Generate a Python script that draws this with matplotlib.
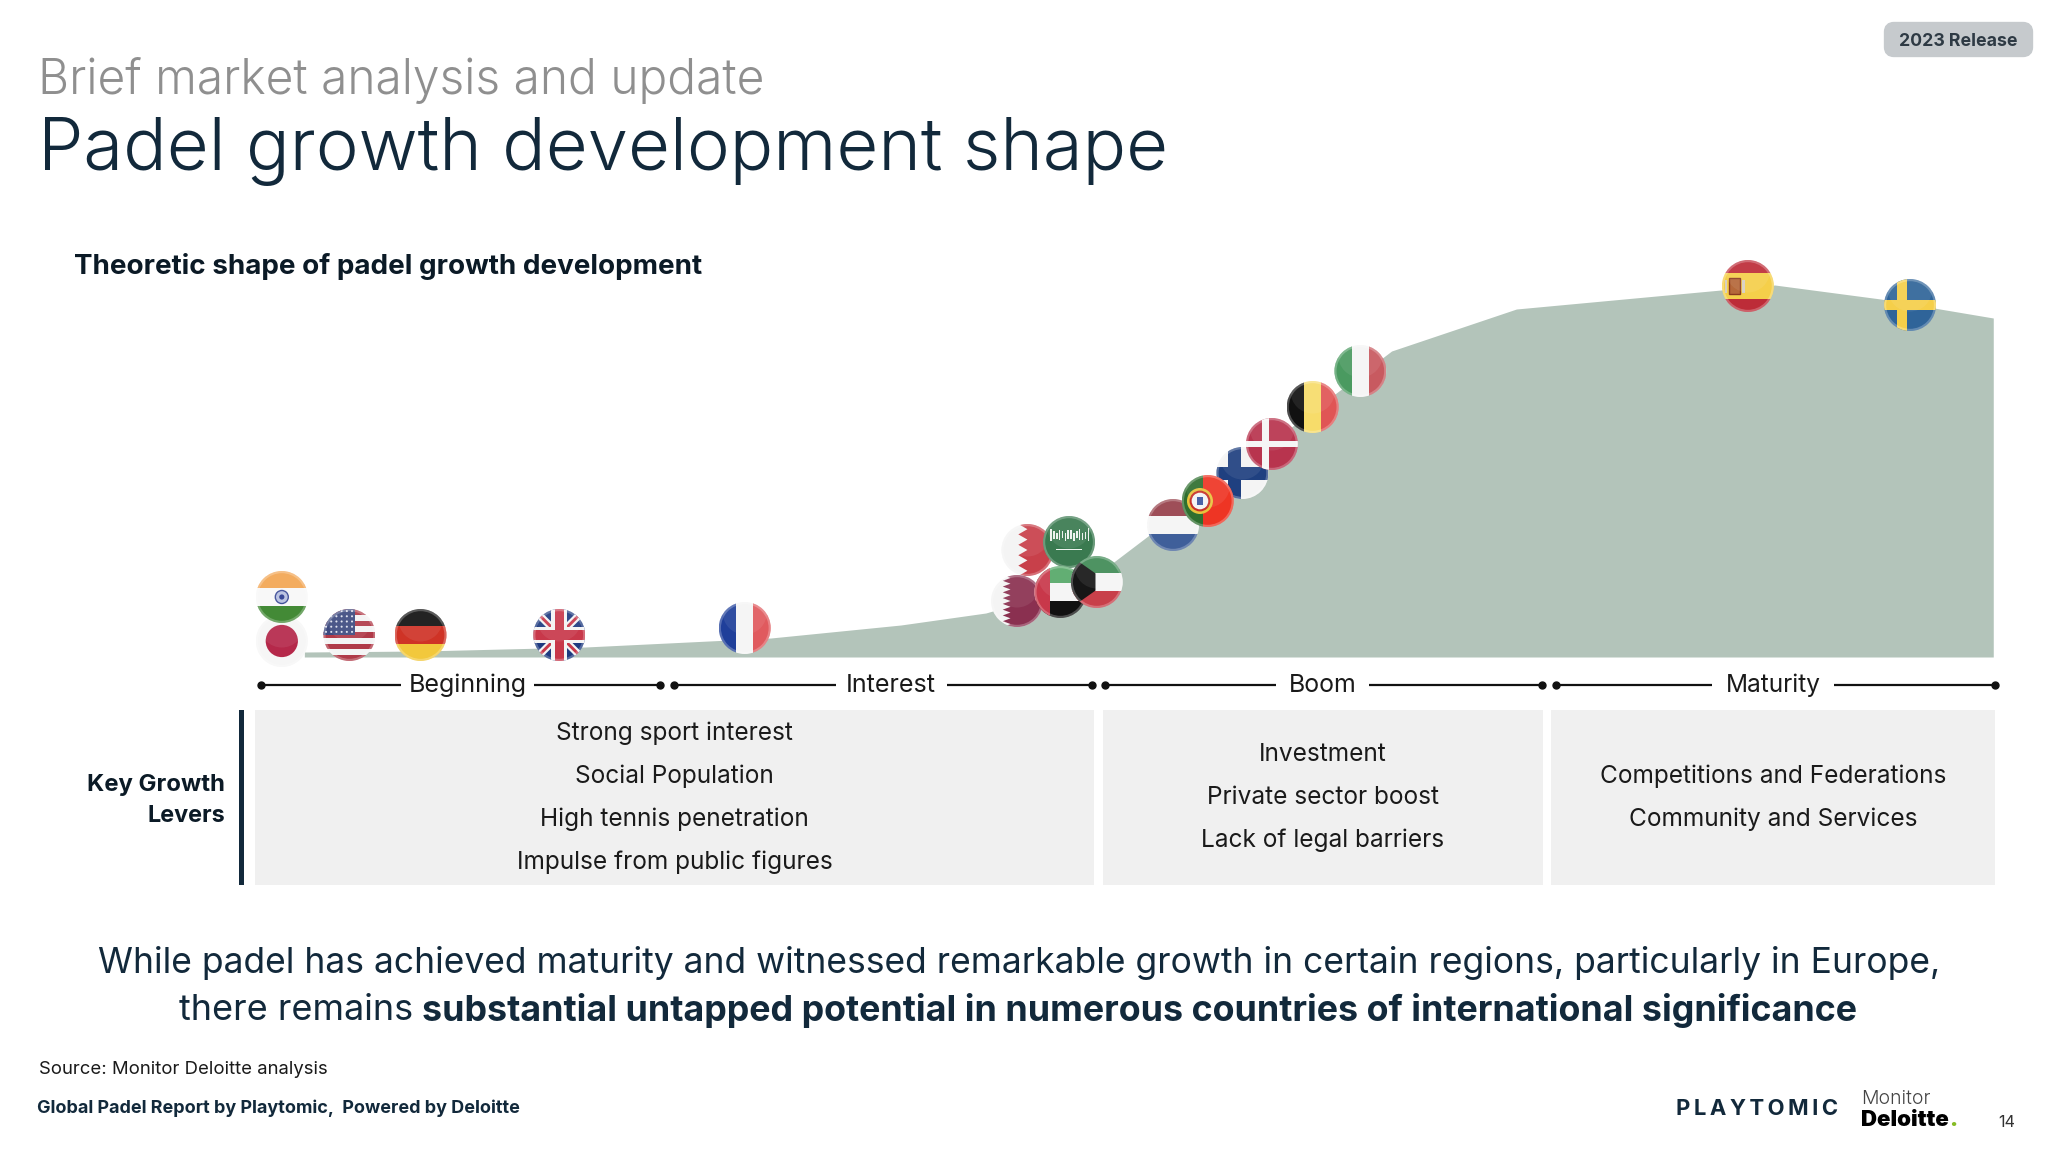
import numpy as np
import matplotlib
matplotlib.use("Agg")
import matplotlib.pyplot as plt
from matplotlib.patches import Rectangle, Circle, Polygon, FancyBboxPatch
from matplotlib.transforms import Affine2D

plt.rcParams['font.family'] = ['Inter', 'DejaVu Sans']

# ---- data -------------------------------------------------------------
curve_x = [2.5, 9.3, 18.7, 29.4, 36.9, 41.8, 45.0, 49.1, 65.2, 72.4, 87.3, 93.4, 99.9]
curve_y = [1.25, 1.5, 2.5, 4.75, 8.0, 11.0, 15.0, 23.5, 76.5, 87.0, 93.0, 89.5, 84.75]

countries = ['Japan', 'India', 'USA', 'Germany', 'UK', 'France', 'Bahrain', 'Qatar', 'Saudi',
             'UAE', 'Kuwait', 'Netherlands', 'Finland', 'Portugal', 'Denmark', 'Belgium',
             'Italy', 'Spain', 'Sweden']
country_x = [1.2, 1.2, 5.1, 9.2, 17.2, 27.9, 44.2, 43.6, 46.6, 46.1, 48.2, 52.6, 56.6, 54.6, 58.3, 60.65, 63.4, 85.75, 95.1]
country_y = [4.0, 15.0, 5.5, 5.5, 5.5, 7.25, 26.75, 14.0, 28.75, 16.25, 18.75, 33.0, 46.0, 39.0, 53.25, 62.5, 71.5, 92.75, 88.0]

stages = ['Beginning', 'Interest', 'Boom', 'Maturity']
stage_start = [0.0, 23.8, 48.7, 74.7]
stage_end = [23.0, 47.9, 73.9, 100.0]

levers = [['Strong sport interest', 'Social Population', 'High tennis penetration', 'Impulse from public figures'],
          ['Investment', 'Private sector boost', 'Lack of legal barriers'],
          ['Competitions and Federations', 'Community and Services']]

NAVY = '#12293b'
W, H = 2048, 1153
fig = plt.figure(figsize=(W / 100, H / 100), dpi=100, facecolor='white')
page = fig.add_axes([0, 0, 1, 1])
page.set_xlim(0, W); page.set_ylim(H, 0); page.axis('off')

CL, CR, CB, CT = 261, 1995, 657, 257
chart = fig.add_axes([CL / W, 1 - CB / H, (CR - CL) / W, (CB - CT) / H], zorder=2)
chart.set_xlim(0, 100); chart.set_ylim(0, 100); chart.axis('off'); chart.patch.set_alpha(0)
chart.set_autoscale_on(False)

renderer = fig.canvas.get_renderer()


def fit(x, y, s, width, ha='left', va='center_baseline', color=NAVY, weight='normal', size=20, ax=page):
    t = ax.text(x, y, s, ha=ha, va=va, color=color, fontweight=weight, fontsize=size)
    w = t.get_window_extent(renderer).width
    t.set_fontsize(size * width / w)
    return t


# ---- header ------------------------------------------------------------
fit(38, 75, 'Brief market analysis and update', 729, color='#8f8f8f', weight=300)
fit(38, 143, 'Padel growth development shape', 1132, weight=300)
page.add_patch(FancyBboxPatch((1888, 26), 141, 27, boxstyle='round,pad=0,rounding_size=6', fc='#c6cacd', ec='#c6cacd', lw=6))
fit(1958, 39, '2023 Release', 118, ha='center', color='#2e3a44', weight='bold')
fit(74, 263.5, 'Theoretic shape of padel growth development', 628, color='#0b1a26', weight='bold')

# ---- area --------------------------------------------------------------
chart.fill_between(curve_x, 0, curve_y, color='#b3c4ba', lw=0, zorder=1)


# ---- flags -------------------------------------------------------------
def flag(name, cx, cy, z, r=26):
    tr = Affine2D().scale(r).translate(cx, cy)
    clip = Circle((0, 0), 1, transform=tr)

    def add(p):
        p.set_transform(tr)
        p.set_clip_path(clip)
        p.set_zorder(z)
        chart.add_patch(p)

    def rect(x0, y0, x1, y1, c):
        add(Rectangle((x0, y0), x1 - x0, y1 - y0, fc=c, ec='none'))

    def hs(*cs, edges=None):
        e = edges if edges is not None else np.linspace(1, -1, len(cs) + 1)
        for i, c in enumerate(cs):
            rect(-1, e[i + 1], 1, e[i], c)

    def vs(*cs, edges=None):
        e = edges if edges is not None else np.linspace(-1, 1, len(cs) + 1)
        for i, c in enumerate(cs):
            rect(e[i], -1, e[i + 1], 1, c)

    def cross(bg, fg, x0, w):
        rect(-1, -1, 1, 1, bg)
        rect(x0 - w / 2, -1, x0 + w / 2, 1, fg)
        rect(-1, -w / 2, 1, w / 2, fg)

    def zig(bg, fg, x0, n, a):
        rect(-1, -1, 1, 1, bg)
        ys = np.linspace(1, -1, 2 * n + 1)
        pts = [(1, 1)] + [(x0 + (a if i % 2 else 0), yy) for i, yy in enumerate(ys)] + [(1, -1)]
        add(Polygon(pts, fc=fg, ec='none'))

    if name == 'Japan':
        rect(-1, -1, 1, 1, '#f6f6f6')
        add(Circle((0, 0), 0.62, fc='#b5284a', ec='none'))
    elif name == 'India':
        hs('#f3a552', '#f8f8f8', '#438a36')
        add(Circle((0, 0), 0.25, fc='#b7bfe0', ec='#3a4a96', lw=1))
        add(Circle((0, 0), 0.1, fc='#2a3a8f', ec='none'))
    elif name == 'USA':
        hs(*['#b03a48' if i % 2 == 0 else '#f4f4f4' for i in range(9)], edges=np.linspace(1, -1, 10))
        rect(-1, 0.0, 0.2, 1, '#3d4a80')
        for yy in np.arange(0.12, 1, 0.2):
            for xx in np.arange(-0.9, 0.2, 0.2):
                add(Circle((xx, yy), 0.04, fc='#dfe2ee', ec='none'))
    elif name == 'Germany':
        hs('#111111', '#cf3326', '#f2c83c')
    elif name == 'UK':
        rect(-1, -1, 1, 1, '#1e3a80')
        for s in (1, -1):
            add(Polygon([(-1, -s * 0.8), (-1, -s), (-0.8, -s), (1, s * 0.8), (1, s), (0.8, s)], fc='#f4f4f4', ec='none'))
            add(Polygon([(-1, -s * 0.92), (-1, -s), (-0.92, -s), (1, s * 0.92), (1, s), (0.92, s)], fc='#c8384a', ec='none'))
        rect(-0.3, -1, 0.3, 1, '#f4f4f4'); rect(-1, -0.3, 1, 0.3, '#f4f4f4')
        rect(-0.18, -1, 0.18, 1, '#c8384a'); rect(-1, -0.18, 1, 0.18, '#c8384a')
    elif name == 'France':
        vs('#1f3f9a', '#f5f5f5', '#e05a5e')
    elif name == 'Bahrain':
        zig('#f4f4f4', '#c8404a', -0.35, 5, 0.35)
    elif name == 'Qatar':
        zig('#f4f4f4', '#8a3050', -0.55, 9, 0.3)
    elif name == 'Saudi':
        rect(-1, -1, 1, 1, '#3a7a50')
        for xx in np.arange(-0.72, 0.72, 0.11):
            rect(xx, 0.02 + 0.12 * abs(np.cos(xx * 11)), xx + 0.06, 0.55 - 0.2 * abs(np.sin(xx * 9)), '#eef3ee')
        rect(-0.5, -0.3, 0.5, -0.25, '#eef3ee')
    elif name == 'UAE':
        hs('#55a868', '#f5f5f5', '#111111')
        rect(-1, -1, -0.4, 1, '#c8384a')
    elif name == 'Kuwait':
        hs('#3f8a55', '#f5f5f5', '#c8404a')
        add(Polygon([(-1, 1), (-0.05, 0.33), (-0.05, -0.33), (-1, -1)], fc='#161616', ec='none'))
    elif name == 'Netherlands':
        hs('#96404a', '#f5f5f5', '#3f5f9a')
    elif name == 'Portugal':
        vs('#2f6f2f', '#ee3524', edges=[-1, -0.2, 1])
        add(Circle((-0.3, 0), 0.5, fc='#e8c43c', ec='none'))
        add(Circle((-0.3, 0), 0.36, fc='#f4f4f4', ec='#c83028', lw=1.5))
        add(Rectangle((-0.42, -0.16), 0.24, 0.32, fc='#3a56a0', ec='none'))
    elif name == 'Finland':
        cross('#f4f4f4', '#1f4080', -0.3, 0.5)
    elif name == 'Denmark':
        cross('#b8344e', '#f5f5f5', -0.25, 0.25)
    elif name == 'Belgium':
        vs('#111111', '#f7dc6a', '#e05555')
    elif name == 'Italy':
        vs('#4a9a60', '#f5f5f5', '#c85a60')
    elif name == 'Spain':
        hs('#bd2c38', '#f5cf4a', '#bd2c38', edges=[1, 0.5, -0.5, -1])
        add(Rectangle((-0.72, -0.3), 0.42, 0.6, fc='#b5683a', ec='#8a3a20', lw=1))
        add(Rectangle((-0.9, -0.25), 0.1, 0.5, fc='#d8d0c0', ec='none'))
        add(Rectangle((-0.22, -0.25), 0.1, 0.5, fc='#d8d0c0', ec='none'))
    elif name == 'Sweden':
        cross('#2f6499', '#f5cf4a', -0.3, 0.4)

    # soft gloss and rim of the round badge
    add(Circle((0, 0.6), 0.85, fc='white', ec='none', alpha=0.08))
    add(Circle((0, 0), 0.97, fc='none', ec='white', alpha=0.25, lw=2))


for i, (name, xv, yv) in enumerate(zip(countries, country_x, country_y)):
    cx, cy = chart.transData.transform((xv, yv))
    flag(name, cx, cy, 3 + i)

# ---- stage timeline ----------------------------------------------------
label_w = [118, 90, 68, 95]
label_x = [468, 891, 1322.5, 1773]
gap_l = [401, 836, 1276, 1712]
gap_r = [534, 947, 1369, 1834]
for s, a, b, lw_, mid, gl, gr in zip(stages, stage_start, stage_end, label_w, label_x, gap_l, gap_r):
    xa = CL + a / 100 * (CR - CL)
    xb = CL + b / 100 * (CR - CL)
    page.plot([xa, gl], [685, 685], color='#111111', lw=1.6, solid_capstyle='butt')
    page.plot([gr, xb], [685, 685], color='#111111', lw=1.6, solid_capstyle='butt')
    page.plot([xa, xb], [685, 685], ls='none', marker='o', ms=5, color='#111111')
    fit(mid, 683, s, lw_, ha='center', color='#1a1a1a')

# ---- growth levers -----------------------------------------------------
boxes = [(255, 1094), (1103, 1543), (1551, 1995)]
box_rows = [[730.5, 773.5, 816.5, 859.5], [752, 795, 838], [773.5, 816.5]]
page.add_patch(Rectangle((238.5, 710), 5.5, 175, fc=NAVY, ec='none'))
fit(225, 783, 'Key Growth', 138, ha='right', color='#0b1a26', weight='bold')
fit(225, 814, 'Levers', 78, ha='right', color='#0b1a26', weight='bold')
ref = page.text(0, 0, 'Impulse from public figures', fontsize=20)
body_size = 20 * 316 / ref.get_window_extent(renderer).width
ref.remove()
for (x0, x1), rows, lines in zip(boxes, box_rows, levers):
    page.add_patch(Rectangle((x0, 710), x1 - x0, 175, fc='#f0f0f0', ec='none'))
    for yy, s in zip(rows, lines):
        page.text((x0 + x1) / 2, yy, s, ha='center', va='center_baseline', color='#1a1a1a', fontsize=body_size)

# ---- takeaway ----------------------------------------------------------
fit(98, 960, 'While padel has achieved maturity and witnessed remarkable growth in certain regions, particularly in Europe,', 1841)
fit(179, 1006.5, 'there remains', 234)
fit(422, 1006.5, 'substantial untapped potential in numerous countries of international significance', 1438, weight='bold')

# ---- footer ------------------------------------------------------------
fit(39, 1068, 'Source: Monitor Deloitte analysis', 288, color='#1a1a1a')
fit(37, 1106, 'Global Padel Report by Playtomic,  Powered by Deloitte', 483, weight='bold')
fit(1676, 1107, 'P\u2009L\u2009A\u2009Y\u2009T\u2009O\u2009M\u2009I\u2009C', 162, weight='bold')
fit(1861, 1097, 'Monitor', 69, color='#444444', weight=300)
d = fit(1861, 1118, 'Deloitte', 88, color='#000000', weight=900)
page.text(1949, 1118, '.', ha='left', va='center_baseline', color='#86bc25', fontweight=900, fontsize=d.get_fontsize())
fit(1998, 1121, '14', 17, color='#333333')

fig.savefig('out.png', dpi=100, facecolor='white')
